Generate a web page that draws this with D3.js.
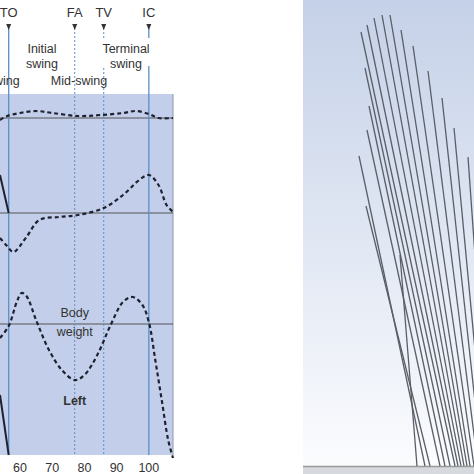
<!DOCTYPE html>
<html><head><meta charset="utf-8">
<script src="https://cdn.jsdelivr.net/npm/d3@7"></script>
<style>body{margin:0;background:#fff}text{font-family:"Liberation Sans",Arial,sans-serif;fill:#333}</style>
</head><body><svg id="c" width="474" height="474"></svg>
<script>
// gait cycle (%) panel
const ticks = [60, 70, 80, 90, 100];
const events = [{n: 'TO', x: 56.5, solid: true}, {n: 'FA', x: 77, solid: false}, {n: 'TV', x: 86, solid: false}, {n: 'IC', x: 100, solid: true}];
const baseLevels = [118, 213, 324];
const topCurve = [[53.8,120],[56,116],[60,113],[65,111],[70,113],[78,116],[85,115],[92,113],[96,111],[100,114],[103,118],[107.5,118]];
const midCurve = [[53.8,238],[56,246],[58,252],[62,237],[66,220],[72,217],[78,215],[86,208],[92,195],[97,180],[100,175],[103,185],[105.5,205],[107.5,212]];
const lowCurve = [[53.8,338],[56.5,326],[59,302],[60.5,293],[62,296],[65,320],[69,350],[73,370],[77,380],[80,375],[84,355],[88,326],[92,302],[95,297],[98,305],[100,322],[102,360],[104,400],[106,440],[107.5,458]];
const stanceLines = [[[53.8,175],[56.5,213]], [[53.8,395],[56.5,455]]];
// leg angle fan: top point and ground point
const legTops = [[400,255],[366,206],[359,156],[367,130],[369,106],[365,68],[361,32],[367,25],[374,18],[382,15],[390,15],[401,30],[413,46],[428,71],[442,98],[454,128],[468,157]];
const legBottoms = [417,430,425,440,445,450,455,458,461,464,467,470,474,478,482,486,490];

const svg = d3.select('#c');
const defs = svg.append('defs');
const g1 = defs.append('linearGradient').attr('id','sky').attr('x1',0).attr('y1',0).attr('x2',0).attr('y2',1);
g1.append('stop').attr('offset','0%').attr('stop-color','#c5d1e8');
g1.append('stop').attr('offset','100%').attr('stop-color','#fbfcfe');

const x = d3.scaleLinear().domain([53.8, 107.5]).range([0, 173]);
const y = d3.scaleLinear().domain([0, 474]).range([0, 474]);

svg.append('rect').attr('x', x(53.8)).attr('y', 94).attr('width', x(107.5) - x(53.8)).attr('height', 361).attr('fill', '#c3cfea');
svg.append('line').attr('x1', x(107.5)).attr('x2', x(107.5)).attr('y1', 94).attr('y2', 455).attr('stroke', '#8a96b0');

svg.selectAll('.base').data(baseLevels).enter().append('line')
  .attr('x1', 0).attr('x2', x(107.5)).attr('y1', d => y(d)).attr('y2', d => y(d))
  .attr('stroke', '#555').attr('stroke-width', 1.2);

events.forEach(e => {
  svg.append('line').attr('x1', x(e.x)).attr('x2', x(e.x)).attr('y1', 28).attr('y2', 455)
    .attr('stroke', e.solid ? '#5b8fc7' : '#5b8fc7').attr('stroke-width', e.solid ? 1.3 : 1)
    .attr('stroke-dasharray', e.solid ? null : '2,2');
  svg.append('text').attr('x', x(e.x)).attr('y', 17).attr('text-anchor', 'middle').attr('font-size', 13).text(e.n);
  svg.append('path').attr('d', `M${x(e.x)-2.5},24 L${x(e.x)+2.5},24 L${x(e.x)},30 Z`).attr('fill', '#333');
});
// white mask behind labels
const lab = (t, xx, yy) => svg.append('text').attr('x', xx).attr('y', yy).attr('text-anchor', 'middle').attr('font-size', 12.5).text(t);
svg.append('rect').attr('x', 92).attr('y', 38).attr('width', 58).attr('height', 28).attr('fill', '#fff');
lab('Initial', 42, 53); lab('swing', 42, 68);
lab('Terminal', 126, 53); lab('swing', 126, 68);
lab('Mid-swing', 79, 85); svg.append('text').attr('x', -6).attr('y', 85).attr('font-size', 12.5).text('wing');
svg.selectAll('.evl').remove();

const line = d3.line().x(d => x(d[0])).y(d => y(d[1])).curve(d3.curveCatmullRom);
[topCurve, midCurve, lowCurve].forEach(c => svg.append('path').attr('d', line(c)).attr('fill', 'none')
  .attr('stroke', '#1e2230').attr('stroke-width', 2.2).attr('stroke-dasharray', '4,3'));
stanceLines.forEach(c => svg.append('path').attr('d', d3.line().x(d => x(d[0])).y(d => y(d[1]))(c))
  .attr('stroke', '#1e2230').attr('stroke-width', 2));

lab('Body', x(77), 317); lab('weight', x(77), 336);
svg.append('text').attr('x', x(77)).attr('y', 405).attr('text-anchor', 'middle').attr('font-size', 12.5).attr('font-weight', 'bold').text('Left');

svg.selectAll('.tk').data(ticks).enter().append('text').attr('x', d => x(d)).attr('y', 472)
  .attr('text-anchor', 'middle').attr('font-size', 12.5).text(d => d);

// right panel
svg.append('rect').attr('x', 303).attr('y', 0).attr('width', 171).attr('height', 466).attr('fill', 'url(#sky)');
svg.append('rect').attr('x', 303).attr('y', 466).attr('width', 171).attr('height', 8).attr('fill', '#d6d9de');
svg.append('line').attr('x1', 303).attr('x2', 474).attr('y1', 466.5).attr('y2', 466.5).attr('stroke', '#999').attr('stroke-width', 1.5);
svg.selectAll('.leg').data(legTops).enter().append('line')
  .attr('x1', d => d[0]).attr('y1', d => y(d[1])).attr('x2', (d, i) => legBottoms[i]).attr('y2', y(466))
  .attr('stroke', '#5a5e66').attr('stroke-width', 1.3);
</script></body></html>
